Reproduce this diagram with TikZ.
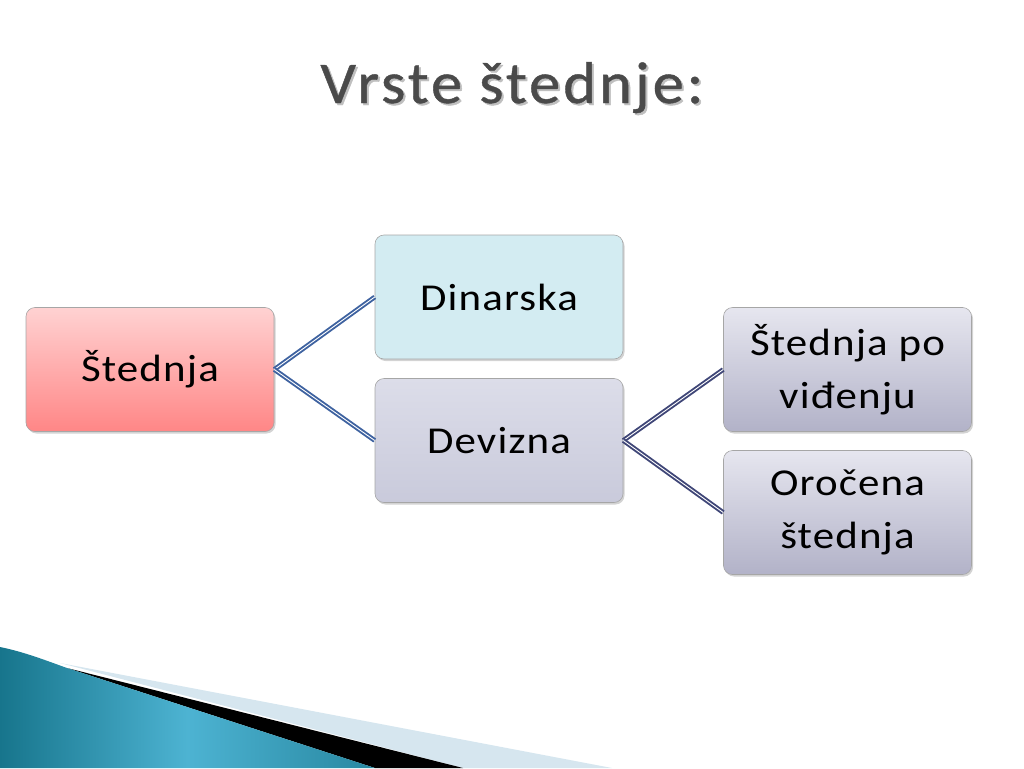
\documentclass[tikz,border=0pt]{standalone}
\usepackage{fontspec}
\setmainfont{Carlito}
\newfontfamily\boxfont[FakeStretch=1.13, LetterSpace=3]{Carlito}
\newfontfamily\titlefont[FakeStretch=1.06, LetterSpace=5, FakeBold=0.7]{Carlito}
\usetikzlibrary{shadows}
\definecolor{titlegray}{HTML}{4A4A4A}
\definecolor{pinktop}{HTML}{FFD2D2}
\definecolor{pinkbot}{HTML}{FF8686}
\definecolor{cyanbox}{HTML}{D3ECF2}
\definecolor{lavtop}{HTML}{DCDDE9}
\definecolor{lavbot}{HTML}{C9CADB}
\definecolor{violtop}{HTML}{E6E6EF}
\definecolor{violbot}{HTML}{B2B2C8}
\definecolor{linkblue}{HTML}{3E62A0}
\definecolor{linknavy}{HTML}{3F4677}
\definecolor{tealdark}{HTML}{17758C}
\definecolor{teallight}{HTML}{4DB3D2}
\definecolor{paleblue}{HTML}{D6E6EF}
\begin{document}
\begin{tikzpicture}[x=1pt,y=-1pt,
  box/.style={rectangle, rounded corners=9pt, draw=black!35, line width=0.6pt,
    minimum width=248pt, minimum height=124pt, align=center,
    font=\boxfont\fontsize{38}{53}\selectfont,
    drop shadow={opacity=0.35, shadow xshift=1.5pt, shadow yshift=-2pt}},
  link/.style={line width=1.9pt, double=white, double distance=0.9pt}]
\useasboundingbox (0,0) rectangle (1024,768);
% title
\node [anchor=base, text=black!25, font=\titlefont\fontsize{59}{59}\selectfont] at (514,105) {Vrste štednje:};
\node (title) [anchor=base, text=titlegray, font=\titlefont\fontsize{59}{59}\selectfont] at (512,103) {Vrste štednje:};
% boxes
\node (stednja) [box, top color=pinktop, bottom color=pinkbot] at (150,369.5) {Štednja};
\node (dinarska) [box, fill=cyanbox] at (499,297) {Dinarska};
\node (devizna) [box, top color=lavtop, bottom color=lavbot] at (499,440.5) {Devizna};
\node (vidjenje) [box, top color=violtop, bottom color=violbot] at (847.5,369.5) {Štednja po\\viđenju};
\node (orocena) [box, top color=violtop, bottom color=violbot] at (847.5,512.5) {Oročena\\štednja};
% links
\draw [link, draw=linkblue] (stednja.east) -- (dinarska.west);
\draw [link, draw=linkblue] (stednja.east) -- (devizna.west);
\draw [link, draw=linknavy] (devizna.east) -- (vidjenje.west);
\draw [link, draw=linknavy] (devizna.east) -- (orocena.west);
% corner
\fill [paleblue] (60,663) -- (612,768) -- (463,768) -- cycle;
\fill [black] (67,668) -- (463,768) -- (375,768) -- cycle;
\shade [left color=tealdark, right color=tealdark!70!teallight, middle color=teallight]
  (0,647) .. controls (25,652) and (50,662) .. (67,668) -- (375,768) -- (0,768) -- cycle;
\end{tikzpicture}
\end{document}
